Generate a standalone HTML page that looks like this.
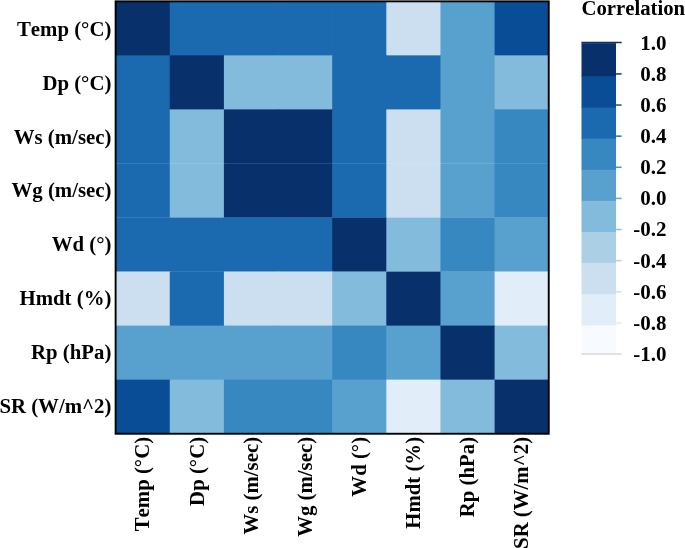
<!DOCTYPE html>
<html><head><meta charset="utf-8"><style>
html,body{margin:0;padding:0;background:#fff;width:685px;height:548px;overflow:hidden}
svg{display:block}
text{font-family:"Liberation Serif","Times New Roman",serif;font-weight:bold;fill:#000;font-kerning:none}
.lab{font-size:20.8px}
.tl{font-size:21px}
.ttl{font-size:20.75px}
</style></head><body>
<svg width="685" height="548" viewBox="0 0 685 548">
<g><rect x="115.62" y="1.30" width="54.84" height="54.75" fill="#08306b"/><rect x="169.76" y="1.30" width="54.84" height="54.75" fill="#1b69af"/><rect x="223.90" y="1.30" width="54.84" height="54.75" fill="#1b69af"/><rect x="278.04" y="1.30" width="54.84" height="54.75" fill="#1b69af"/><rect x="332.18" y="1.30" width="54.84" height="54.75" fill="#1b69af"/><rect x="386.32" y="1.30" width="54.84" height="54.75" fill="#ccdff1"/><rect x="440.46" y="1.30" width="54.84" height="54.75" fill="#58a1cf"/><rect x="494.60" y="1.30" width="54.14" height="54.75" fill="#084d96"/><rect x="115.62" y="55.35" width="54.84" height="54.75" fill="#1b69af"/><rect x="169.76" y="55.35" width="54.84" height="54.75" fill="#08306b"/><rect x="223.90" y="55.35" width="54.84" height="54.75" fill="#82bbdb"/><rect x="278.04" y="55.35" width="54.84" height="54.75" fill="#82bbdb"/><rect x="332.18" y="55.35" width="54.84" height="54.75" fill="#1b69af"/><rect x="386.32" y="55.35" width="54.84" height="54.75" fill="#1b69af"/><rect x="440.46" y="55.35" width="54.84" height="54.75" fill="#58a1cf"/><rect x="494.60" y="55.35" width="54.14" height="54.75" fill="#82bbdb"/><rect x="115.62" y="109.40" width="54.84" height="54.75" fill="#1b69af"/><rect x="169.76" y="109.40" width="54.84" height="54.75" fill="#82bbdb"/><rect x="223.90" y="109.40" width="54.84" height="54.75" fill="#08306b"/><rect x="278.04" y="109.40" width="54.84" height="54.75" fill="#08306b"/><rect x="332.18" y="109.40" width="54.84" height="54.75" fill="#1b69af"/><rect x="386.32" y="109.40" width="54.84" height="54.75" fill="#ccdff1"/><rect x="440.46" y="109.40" width="54.84" height="54.75" fill="#58a1cf"/><rect x="494.60" y="109.40" width="54.14" height="54.75" fill="#3787c0"/><rect x="115.62" y="163.45" width="54.84" height="54.75" fill="#1b69af"/><rect x="169.76" y="163.45" width="54.84" height="54.75" fill="#82bbdb"/><rect x="223.90" y="163.45" width="54.84" height="54.75" fill="#08306b"/><rect x="278.04" y="163.45" width="54.84" height="54.75" fill="#08306b"/><rect x="332.18" y="163.45" width="54.84" height="54.75" fill="#1b69af"/><rect x="386.32" y="163.45" width="54.84" height="54.75" fill="#ccdff1"/><rect x="440.46" y="163.45" width="54.84" height="54.75" fill="#58a1cf"/><rect x="494.60" y="163.45" width="54.14" height="54.75" fill="#3787c0"/><rect x="115.62" y="217.50" width="54.84" height="54.75" fill="#1b69af"/><rect x="169.76" y="217.50" width="54.84" height="54.75" fill="#1b69af"/><rect x="223.90" y="217.50" width="54.84" height="54.75" fill="#1b69af"/><rect x="278.04" y="217.50" width="54.84" height="54.75" fill="#1b69af"/><rect x="332.18" y="217.50" width="54.84" height="54.75" fill="#08306b"/><rect x="386.32" y="217.50" width="54.84" height="54.75" fill="#82bbdb"/><rect x="440.46" y="217.50" width="54.84" height="54.75" fill="#3787c0"/><rect x="494.60" y="217.50" width="54.14" height="54.75" fill="#58a1cf"/><rect x="115.62" y="271.55" width="54.84" height="54.75" fill="#ccdff1"/><rect x="169.76" y="271.55" width="54.84" height="54.75" fill="#1b69af"/><rect x="223.90" y="271.55" width="54.84" height="54.75" fill="#ccdff1"/><rect x="278.04" y="271.55" width="54.84" height="54.75" fill="#ccdff1"/><rect x="332.18" y="271.55" width="54.84" height="54.75" fill="#82bbdb"/><rect x="386.32" y="271.55" width="54.84" height="54.75" fill="#08306b"/><rect x="440.46" y="271.55" width="54.84" height="54.75" fill="#58a1cf"/><rect x="494.60" y="271.55" width="54.14" height="54.75" fill="#e1edf8"/><rect x="115.62" y="325.60" width="54.84" height="54.75" fill="#58a1cf"/><rect x="169.76" y="325.60" width="54.84" height="54.75" fill="#58a1cf"/><rect x="223.90" y="325.60" width="54.84" height="54.75" fill="#58a1cf"/><rect x="278.04" y="325.60" width="54.84" height="54.75" fill="#58a1cf"/><rect x="332.18" y="325.60" width="54.84" height="54.75" fill="#3787c0"/><rect x="386.32" y="325.60" width="54.84" height="54.75" fill="#58a1cf"/><rect x="440.46" y="325.60" width="54.84" height="54.75" fill="#08306b"/><rect x="494.60" y="325.60" width="54.14" height="54.75" fill="#82bbdb"/><rect x="115.62" y="379.65" width="54.84" height="54.05" fill="#084d96"/><rect x="169.76" y="379.65" width="54.84" height="54.05" fill="#82bbdb"/><rect x="223.90" y="379.65" width="54.84" height="54.05" fill="#3787c0"/><rect x="278.04" y="379.65" width="54.84" height="54.05" fill="#3787c0"/><rect x="332.18" y="379.65" width="54.84" height="54.05" fill="#58a1cf"/><rect x="386.32" y="379.65" width="54.84" height="54.05" fill="#e1edf8"/><rect x="440.46" y="379.65" width="54.84" height="54.05" fill="#82bbdb"/><rect x="494.60" y="379.65" width="54.14" height="54.05" fill="#08306b"/></g>
<g stroke="#fff" stroke-opacity="0.13" stroke-width="1"><line x1="116" x2="548" y1="163.45" y2="163.45"/><line x1="116" x2="548" y1="217.50" y2="217.50"/><line x1="116" x2="548" y1="271.55" y2="271.55"/></g>
<rect x="115.62" y="1.35" width="433.12" height="432.40" fill="none" stroke="#000" stroke-width="1.9"/>
<g class="lab"><text x="111.4" y="36.05" text-anchor="end">Temp (°C)</text><text x="111.4" y="89.85" text-anchor="end">Dp (°C)</text><text x="111.4" y="143.65" text-anchor="end">Ws (m/sec)</text><text x="111.4" y="197.45" text-anchor="end">Wg (m/sec)</text><text x="111.4" y="251.25" text-anchor="end">Wd (°)</text><text x="111.4" y="305.05" text-anchor="end">Hmdt (%)</text><text x="111.4" y="358.85" text-anchor="end">Rp (hPa)</text><text x="111.4" y="412.65" text-anchor="end">SR (W/m^2)</text></g>
<g class="lab" style="font-kerning:normal"><text transform="translate(149.49,436.9) rotate(-90)" text-anchor="end">Temp (°C)</text><text transform="translate(203.63,436.9) rotate(-90)" text-anchor="end">Dp (°C)</text><text transform="translate(257.77,436.9) rotate(-90)" text-anchor="end">Ws (m/sec)</text><text transform="translate(311.91,436.9) rotate(-90)" text-anchor="end">Wg (m/sec)</text><text transform="translate(366.05,436.9) rotate(-90)" text-anchor="end">Wd (°)</text><text transform="translate(420.19,436.9) rotate(-90)" text-anchor="end">Hmdt (%)</text><text transform="translate(474.33,436.9) rotate(-90)" text-anchor="end">Rp (hPa)</text><text transform="translate(528.47,436.9) rotate(-90)" text-anchor="end">SR (W/m^2)</text></g>
<text x="581.4" y="15.2" class="ttl">Correlation</text>
<g><rect x="581.5" y="43.15" width="34.50" height="33.77" fill="#08306b"/><rect x="581.5" y="76.42" width="34.50" height="31.62" fill="#084d96"/><rect x="581.5" y="107.54" width="34.50" height="31.62" fill="#1b69af"/><rect x="581.5" y="138.66" width="34.50" height="31.62" fill="#3787c0"/><rect x="581.5" y="169.78" width="34.50" height="31.62" fill="#58a1cf"/><rect x="581.5" y="200.90" width="34.50" height="31.62" fill="#82bbdb"/><rect x="581.5" y="232.02" width="34.50" height="31.62" fill="#abd0e6"/><rect x="581.5" y="263.14" width="34.50" height="31.62" fill="#ccdff1"/><rect x="581.5" y="294.26" width="34.50" height="31.62" fill="#e1edf8"/><rect x="581.5" y="325.38" width="34.50" height="27.82" fill="#f7fbff"/></g>
<g><line x1="581.4" x2="621.7" y1="42.50" y2="42.50" stroke="#08306b" stroke-width="1.6"/><text x="666.6" y="49.70" text-anchor="end" class="tl">1.0</text><line x1="616.0" x2="621.6" y1="73.92" y2="73.92" stroke="#084a91" stroke-width="1.6"/><text x="666.6" y="80.82" text-anchor="end" class="tl">0.8</text><line x1="616.0" x2="621.6" y1="105.04" y2="105.04" stroke="#1764ab" stroke-width="1.6"/><text x="666.6" y="111.94" text-anchor="end" class="tl">0.6</text><line x1="616.0" x2="621.6" y1="136.16" y2="136.16" stroke="#2e7ebc" stroke-width="1.6"/><text x="666.6" y="143.06" text-anchor="end" class="tl">0.4</text><line x1="616.0" x2="621.6" y1="167.28" y2="167.28" stroke="#4a98c9" stroke-width="1.6"/><text x="666.6" y="174.18" text-anchor="end" class="tl">0.2</text><line x1="616.0" x2="621.6" y1="198.40" y2="198.40" stroke="#6aaed6" stroke-width="1.6"/><text x="666.6" y="205.30" text-anchor="end" class="tl">0.0</text><line x1="616.0" x2="621.6" y1="229.52" y2="229.52" stroke="#94c4df" stroke-width="1.6"/><text x="666.6" y="236.42" text-anchor="end" class="tl">-0.2</text><line x1="616.0" x2="621.6" y1="260.64" y2="260.64" stroke="#b7d4ea" stroke-width="1.6"/><text x="666.6" y="267.54" text-anchor="end" class="tl">-0.4</text><line x1="616.0" x2="621.6" y1="291.76" y2="291.76" stroke="#d0e1f2" stroke-width="1.6"/><text x="666.6" y="298.66" text-anchor="end" class="tl">-0.6</text><line x1="616.0" x2="621.6" y1="322.88" y2="322.88" stroke="#e3eef9" stroke-width="1.6"/><text x="666.6" y="329.78" text-anchor="end" class="tl">-0.8</text><line x1="581.3" x2="621.5" y1="354.00" y2="354.00" stroke="#e0e3e6" stroke-width="1.8"/><text x="666.6" y="360.90" text-anchor="end" class="tl">-1.0</text></g>
</svg>
</body></html>
